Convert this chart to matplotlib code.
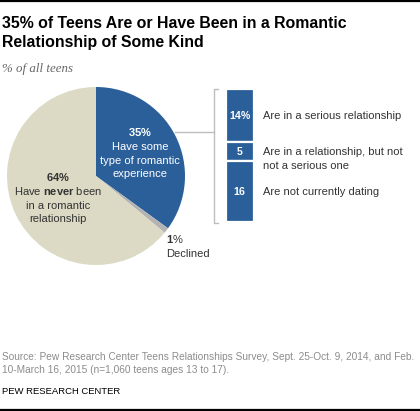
import matplotlib
matplotlib.use("Agg")
import matplotlib.pyplot as plt
from matplotlib import font_manager
from matplotlib.transforms import blended_transform_factory, offset_copy

# ---------------- data ----------------
pie_labels = ["Have some type of romantic experience", "Declined", "Have never been in a romantic relationship"]
pie_values = [35, 1, 64]
sub_values = [14, 5, 16]
sub_value_labels = ["14%", "5", "16"]
sub_descriptions = [["Are in a serious relationship"],
                    ["Are in a relationship, but not", "not a serious one"],
                    ["Are not currently dating"]]
title_lines = ["35% of Teens Are or Have Been in a Romantic", "Relationship of Some Kind"]
subtitle = "% of all teens"
source_lines = ["Source: Pew Research Center Teens Relationships Survey, Sept. 25-Oct. 9, 2014, and Feb.",
                "10-March 16, 2015 (n=1,060 teens ages 13 to 17)."]
credit = "PEW RESEARCH CENTER"

BLUE = "#2a5f9a"
BEIGE = "#dcd9c4"
GRAY = "#b3b3b3"
TXT = "#333333"

names = {f.name for f in font_manager.fontManager.ttflist}
NARROW = "Liberation Sans Narrow" in names
FONT = "Liberation Sans Narrow" if NARROW else "Liberation Sans"
scale = 1.0 if NARROW else 0.92

plt.rcParams["font.family"] = [FONT, "DejaVu Sans"]
plt.rcParams["mathtext.fontset"] = "custom"
plt.rcParams["mathtext.rm"] = FONT
plt.rcParams["mathtext.bf"] = FONT + ":bold"

W, H = 420, 411
fig = plt.figure(figsize=(W / 100, H / 100), dpi=100)


def px_axes(x0, y0, x1, y1):
    return fig.add_axes([x0 / W, 1 - y1 / H, (x1 - x0) / W, (y1 - y0) / H])


ov = px_axes(0, 0, W, H)
ov.set_xlim(0, W)
ov.set_ylim(H, 0)
ov.axis("off")
ov.set_zorder(5)


def lines(x, y0, items, step, **kw):
    for i, s in enumerate(items):
        ov.text(x, y0 + i * step, s, va="baseline", **kw)


# rules
ov.plot([0, W], [1, 1], color="black", lw=1.6, solid_capstyle="butt")
ov.plot([0, W], [409.5, 409.5], color="black", lw=1.6, solid_capstyle="butt")

# title / subtitle
lines(2, 27.5, title_lines, 20, fontsize=11.4, fontweight="bold", color="black", ha="left")
ov.text(2, 72, subtitle, fontsize=9.3, fontstyle="italic", color="#666666",
        va="baseline", ha="left", family=["Liberation Serif"])

# pie
pax = px_axes(7, 87, 185, 265)
pax.pie(pie_values, colors=[BLUE, GRAY, BEIGE], startangle=90, counterclock=False,
        radius=1.0, wedgeprops=dict(linewidth=0))
pax.set_xlim(-1, 1)
pax.set_ylim(-1, 1)
pax.set_aspect("equal")
pax.axis("off")

fs = 8.7 * scale
LS = 13.8
lines(140, 136, [r"$\mathbf{35\%}$", "Have some", "type of romantic", "experience"], LS,
      color="white", fontsize=fs, ha="center")
lines(58, 181, [r"$\mathbf{64\%}$", r"Have $\mathbf{never}$ been", "in a romantic", "relationship"], LS,
      color=TXT, fontsize=fs, ha="center")
lines(166, 243, [r"$\mathbf{1}$%", "Declined"], LS, color=TXT, fontsize=fs, ha="left")

# bracket
BR = "#bdbdbd"
ov.plot([175, 214], [132, 132], color=BR, lw=1)
ov.plot([217.5, 214, 214, 217.5], [89.5, 89.5, 222.5, 222.5], color=BR, lw=1)

# stacked bar
bax = px_axes(226, 89, 254, 222)
total = sum(sub_values)
bax.set_ylim(total, 0)
bax.set_xlim(0, 1)
bax.axis("off")
bottom = 0
centers = []
for v in sub_values:
    bax.bar(0.5, v, bottom=bottom, width=1.0, color=BLUE, edgecolor="white",
            linewidth=1.6)
    centers.append(bottom + v / 2)
    bottom += v

tr = blended_transform_factory(ov.transData, bax.transData)
for c, lab, desc in zip(centers, sub_value_labels, sub_descriptions):
    for i, s in enumerate(desc):
        t = offset_copy(tr, fig=fig, x=0, y=-3.5 - i * LS, units="dots")
        ov.text(263, c, s, transform=t, color=TXT, fontsize=fs, ha="left", va="baseline")
    t = offset_copy(tr, fig=fig, x=0, y=-3.5, units="dots")
    ov.text(240, c, "$\\mathbf{" + lab.replace("%", r"\%") + "}$",
            transform=t, color="white", fontsize=7.6, ha="center", va="baseline")

# source
lines(2, 360, source_lines, 12.5, color="#8c8c8c", fontsize=7.3, ha="left")
ov.text(2, 394, credit, color="black", fontsize=6.8, ha="left", va="baseline")

fig.savefig("out.png", dpi=100)
